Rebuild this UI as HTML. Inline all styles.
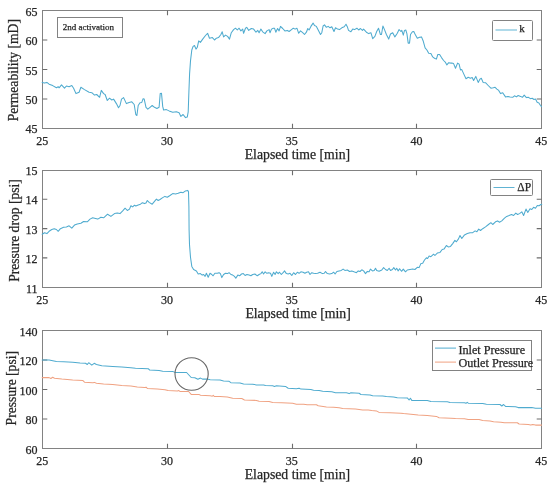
<!DOCTYPE html>
<html><head><meta charset="utf-8"><title>Figure</title>
<style>
html,body{margin:0;padding:0;background:#fff;}
svg{display:block;}
text{font-family:"Liberation Serif",serif;fill:#262626;stroke:#262626;stroke-width:0.25px;}
.t{font-size:12px;}
.l{font-size:13.6px;}
.x{font-size:13.75px;}
.c{fill:none;stroke-width:1.05;stroke-linejoin:round;stroke-linecap:round;}
</style></head><body>
<svg width="550" height="486" viewBox="0 0 550 486">
<rect width="550" height="486" fill="#ffffff"/>
<!-- plot 1 -->
<rect x="42.5" y="10.5" width="499.0" height="118.0" fill="none" stroke="#828282" stroke-width="1"/>
<path d="M167.5 128.5v-4.8M167.5 10.5v4.8M292.5 128.5v-4.8M292.5 10.5v4.8M416.5 128.5v-4.8M416.5 10.5v4.8M42.5 40h4.8M541.5 40h-4.8M42.5 69.5h4.8M541.5 69.5h-4.8M42.5 99h4.8M541.5 99h-4.8" stroke="#6c6c6c" stroke-width="1.1" fill="none"/>
<polyline class="c" stroke="#4fabcf" points="42.2,82.4 44.5,83.1 46.9,82.4 49.1,84.2 52.7,85.6 56.4,87.8 58.2,86.7 59.1,87.8 61.5,84.9 64.5,88.2 66.4,86 69.1,86.7 71.8,85.5 73.6,88.2 76,93.6 79.1,92.2 80.9,87.3 84.5,89.6 89.1,92.2 91.8,92.7 94.5,95.1 96.7,94.5 99.6,97.3 101.3,90.4 103.6,93.6 105.1,94.5 107.3,100.5 109.5,98.2 111.8,100 113.6,99.1 116.4,103.6 118.5,107.8 120,105.5 121.5,99.1 123.6,97.6 126.4,103.6 129.1,102.4 131.8,101.8 134.2,104.5 135.8,114.5 136.9,115.5 138.2,105.5 140,102.7 141.8,102.4 143.1,98.7 144.2,99.1 146,107.3 147.8,109.1 150,107.3 152.2,105.5 154.5,107.3 156.9,108.5 159.1,107.3 160.2,93.6 161.5,93.3 162.7,106.4 163.6,110 166.4,109.6 169.1,110.9 172.7,112.2 176.4,111.8 179.1,112.7 180.9,116.4 183.1,114.5 185.5,117.6 187.3,116.9 188.2,111.8 188.9,91.8 189.6,73.6 190.5,60.9 191.8,50 193.1,46.4 194.5,45.5 196,49.1 197.3,47.3 198.7,40.9 200.4,42.4 202.7,39.1 205.5,35.5 207.6,33.3 209.5,38.2 212.4,37.6 214.5,40 216.4,38.2 218.5,37.6 220.9,34.5 222.2,31.8 223.6,36.9 225.5,35.1 227.6,36.4 229.5,39.1 231.3,32.7 233.6,29.6 235.5,28.2 237.3,30 239.1,28.2 240.9,30.9 242.7,29.1 243.6,33.3 245.5,28.2 246.7,27.3 248.7,30.4 251.3,28.5 253.6,29.1 256,32.2 257.8,30.4 259.1,32.7 260.9,29.1 262.7,31.8 265.1,33.6 266.9,30.9 269.1,29.6 270,32.7 271.5,29.1 273.3,28.2 274.5,28.2 275.8,32.2 277.6,28.5 279.1,30.9 280.5,26.4 282.7,28.5 284.9,30.9 287.3,30.4 289.1,31.5 291.5,29.6 293.3,28.2 295.1,29.1 296.9,28.2 298.7,33.3 300.5,30.9 302.7,32.7 304.5,34.5 306.4,32.2 307.8,28.5 309.1,30 310.9,26.4 313.1,23.1 314.5,25.5 316.4,26.4 318.2,30 320.5,34.5 321.8,32.7 323.1,26 324.5,24.9 326.4,27.3 328.2,26.4 330,27.8 331.8,26.7 334,31.5 335.5,27.8 337.6,29.1 339.5,29.6 341.8,27.8 344.2,26.7 346,24.2 347.3,26.7 348.5,30.4 350.9,31.8 352.7,29.1 354.5,29.6 356.9,28.2 358.7,30 360.5,28.5 362.4,30.4 363.6,29.1 366.4,32.2 368.7,33.6 370.9,32.7 372.7,38.7 374.9,36.4 376.7,31.5 378.5,28.2 380.4,34.5 381.5,34.5 382.9,26 384.5,29.6 386.4,34.5 388.7,39.1 390.5,34 392.7,32.7 394.9,36.9 397.3,33.3 399.1,29.6 400.9,31.5 401.8,30.4 403.3,35.1 404.5,30.4 405.8,30 406.9,33.6 408.2,43.1 409.5,43.1 410.5,34.5 412.4,31.8 413.8,31.5 415.5,35.1 417.3,38.2 419.6,37.3 421.5,36.9 423.3,41.3 425.1,47.8 426.9,50 428.7,53.3 430.9,53.6 432.7,56.9 434.5,58.2 436.4,59.1 437.8,54.5 439.6,54.5 441.5,57.6 443.6,60.5 445.5,62.4 446.9,64.9 448.7,62.7 450.5,63.1 451.8,63.1 453.6,63.6 455.5,68.2 457.6,63.1 459.1,64.2 460.5,70 461.8,69.6 463.6,73.6 466,78.7 468.2,77.3 470.4,78.2 472.2,77.6 473.6,80.5 475.8,76.4 478.2,82.4 480,79.1 481.3,78.2 483.1,82.4 485.5,82.7 488.2,85.5 490.9,88.2 493.3,87.8 495.1,87.3 496.9,89.1 498.7,90.4 500.5,93.6 502.7,92.7 505.5,96.9 507.8,96.4 510,96.9 512.7,97.3 514.5,95.8 516.4,96.9 518.2,95.5 520.5,96.4 522.4,97.3 524.2,95.1 526.4,97.6 528.5,97.3 530.4,98.7 532.2,98.2 534,99.5 535.5,99.1 537.3,102.4 538.7,102.7 540.5,105.5 541.5,106.7"/>
<g class="t">
<text x="37.6" y="15.6" text-anchor="end">65</text>
<text x="37.6" y="45.2" text-anchor="end">60</text>
<text x="37.6" y="74.8" text-anchor="end">55</text>
<text x="37.6" y="104.3" text-anchor="end">50</text>
<text x="37.6" y="133.3" text-anchor="end">45</text>
<text x="42.20" y="145.1" text-anchor="middle">25</text>
<text x="166.95" y="145.1" text-anchor="middle">30</text>
<text x="291.70" y="145.1" text-anchor="middle">35</text>
<text x="416.45" y="145.1" text-anchor="middle">40</text>
<text x="541.20" y="145.1" text-anchor="middle">45</text>
</g>
<text class="x" x="297.4" y="158.5" text-anchor="middle">Elapsed time [min]</text>
<text class="l" transform="translate(17.8,70.2) rotate(-90)" text-anchor="middle">Permeability [mD]</text>
<rect x="57.5" y="17.5" width="65" height="20" fill="#fff" stroke="#828282" stroke-width="1"/>
<text x="62.8" y="30" style="font-size:9px" stroke="#262626" stroke-width="0.2">2nd activation</text>
<rect x="492.5" y="20.5" width="40" height="20" rx="1" fill="#fff" stroke="#828282" stroke-width="1"/>
<path d="M495.5 30H517" stroke="#4fabcf" stroke-width="1" opacity="0.9"/>
<text class="l" x="519.2" y="32.4" style="font-size:11px">k</text>
<!-- plot 2 -->
<rect x="42.5" y="170.5" width="499.0" height="117.0" fill="none" stroke="#828282" stroke-width="1"/>
<path d="M167.5 287.5v-4.8M167.5 170.5v4.8M292.5 287.5v-4.8M292.5 170.5v4.8M416.5 287.5v-4.8M416.5 170.5v4.8M42.5 199.2h4.8M541.5 199.2h-4.8M42.5 228.6h4.8M541.5 228.6h-4.8M42.5 257.9h4.8M541.5 257.9h-4.8" stroke="#6c6c6c" stroke-width="1.1" fill="none"/>
<polyline class="c" stroke="#4fabcf" points="42.2,234.2 44.5,232.7 46.9,233.6 49.1,231.3 51.8,229.5 54.2,228.7 56.4,229.5 58.2,231.3 60.4,228.7 63.6,227.3 66.4,226.9 69.1,225.8 71.8,228.2 74.5,225.1 77.3,224 80.9,223.3 83.6,221.5 87.3,221.8 90,219.1 92.7,217.8 95.5,218.5 97.8,219.1 100.9,217.3 103.6,217.8 107.6,214.2 110.9,216.4 114.5,213.6 117.3,213.1 120,213.6 122.7,210.9 125.1,208.2 127.3,210.5 129.5,209.1 130.9,205.8 132.7,206.9 134.5,205.2 135.8,206 138.2,204.9 140.5,204.2 142.4,202.7 144.5,203.6 146,203.1 147.3,200.5 149.1,202.4 152.2,204.2 154.5,201.3 156.4,199.1 158.2,200.5 160,199.5 162.7,197.6 164.9,196.4 167.3,197.3 170,195.5 172.7,193.6 175.5,194 178.2,193.3 180.9,192.2 183.1,192.7 185.5,190.9 187.8,190.4 188.5,191.8 188.9,206.4 189.1,230 189.5,244.5 190.5,257.3 191.8,266.4 193.6,269.6 196.4,270.9 198.2,274 200.4,273.6 202.2,275.1 203.6,274.5 205.1,276.4 206.4,273.3 208.2,277.3 210,273.3 211.8,274.5 213.1,275.8 214.9,273.3 217.3,273.3 219.1,272.7 220.4,273.6 221.8,277.6 223.6,274.5 225.5,273.3 227.3,273.6 229.1,272.7 230.9,274.5 232.7,275.1 234.5,276.4 235.8,278.2 237.8,275.1 239.6,275.8 241.5,274 243.3,273.6 245.1,275.5 246.9,274.5 249.1,275.1 250.9,275.8 252.7,274.5 254.9,274 257.3,275.8 259.1,274.5 260.9,273.6 262.2,271.8 263.6,274 265.1,271.8 266.9,273.3 268.7,272.7 270.5,273.3 271.8,276.4 273.6,272.2 275.1,274.5 276.4,271.8 278.2,273.6 279.5,272.2 281.3,274.5 283.1,272.7 284.5,270.9 286.4,273.6 288.2,274 290,273.3 291.8,275.5 293.6,272.7 295.5,274.5 297.3,272.2 299.1,273.3 300.9,271.8 303.1,272.2 304.9,273.3 306.7,272.2 308.5,271.8 310,274.5 311.8,272.7 313.6,273.3 315.5,273.6 317.6,273.3 320,272.2 322.4,273.6 324.2,273.3 325.5,271.5 327.3,273.6 329.6,274 331.8,273.6 333.6,272.2 335.1,274 336.9,271.5 339.1,270.9 341.3,270.4 343.1,269.1 344.9,270.4 347.3,270 349.6,271.5 351.8,270.9 354,271.8 356.4,272.7 358.2,270.9 360,271.5 361.8,269.8 363.6,270.9 365.5,273.6 367.3,271.4 369.1,271.8 370.5,269.1 372.4,270.9 374.2,270.5 375.5,268.2 376.7,270.5 379.1,271.3 381.8,270 383.6,267.6 385.5,269.5 387.3,270.5 389.1,268.2 390.5,270.5 392.4,269.5 393.8,267.6 395.5,270 396.7,268.2 398.2,270.9 399.6,268.7 401.5,271.3 403.3,269.1 405.5,271.8 407.3,270 410,269.5 412.7,269.1 414.9,269.5 417.3,267.3 419.1,267.6 420.9,263.6 422.7,263.3 424.5,260 426.4,257.8 427.6,258.5 429.1,256 430.9,256.7 433.6,254.2 434.9,255.5 437.3,253.1 440,252.4 442.2,249.5 444,249.1 446.4,245.5 448.2,246.9 450.5,246.4 452.7,243.6 454.9,240.4 456.4,241.8 458.5,238.9 460,235.5 461.8,238.5 464.5,234.9 467.3,233.6 470,232.7 472.7,232.7 475.1,230.9 476.9,231.8 478.7,229.1 480.5,230.5 482.7,228.7 485.5,226.9 488.5,224.5 490.9,222.7 492.7,224.5 495.5,221.8 497.6,220.9 499.5,222.2 501.8,220.9 504.5,218.2 506.7,216.4 509.1,215.5 511.5,214.5 513.6,215.5 515.8,213.1 517.6,214.5 519.5,213.6 521.8,211.8 523.6,215.5 526,209.1 527.8,212.4 530,208.7 531.8,209.5 533.6,207.3 535.5,208.2 537.3,205.5 539.1,205.8 540.9,204.5 541.8,204.2"/>
<g class="t">
<text x="37.6" y="174.9" text-anchor="end">15</text>
<text x="37.6" y="204.3" text-anchor="end">14</text>
<text x="37.6" y="233.8" text-anchor="end">13</text>
<text x="37.6" y="263.2" text-anchor="end">12</text>
<text x="37.6" y="292.6" text-anchor="end">11</text>
<text x="42.20" y="304.1" text-anchor="middle">25</text>
<text x="166.95" y="304.1" text-anchor="middle">30</text>
<text x="291.70" y="304.1" text-anchor="middle">35</text>
<text x="416.45" y="304.1" text-anchor="middle">40</text>
<text x="541.20" y="304.1" text-anchor="middle">45</text>
</g>
<text class="x" x="298.1" y="318" text-anchor="middle">Elapsed time [min]</text>
<text class="l" transform="translate(18.5,230.5) rotate(-90)" text-anchor="middle">Pressure drop [psi]</text>
<rect x="490.5" y="179.5" width="42" height="16" rx="1" fill="#fff" stroke="#828282" stroke-width="1"/>
<path d="M493.5 187.5H514.5" stroke="#4fabcf" stroke-width="1" opacity="0.9"/>
<text class="l" x="517.3" y="191" style="font-size:11.5px">ΔP</text>
<!-- plot 3 -->
<rect x="42.5" y="330.5" width="499.0" height="118.0" fill="none" stroke="#828282" stroke-width="1"/>
<path d="M167.5 448.5v-4.8M167.5 330.5v4.8M292.5 448.5v-4.8M292.5 330.5v4.8M416.5 448.5v-4.8M416.5 330.5v4.8M42.5 360h4.8M541.5 360h-4.8M42.5 389.5h4.8M541.5 389.5h-4.8M42.5 419h4.8M541.5 419h-4.8" stroke="#6c6c6c" stroke-width="1.1" fill="none"/>
<polyline class="c" stroke="#4fabcf" points="42.2,360 49.1,360 56.4,361.5 63.6,361.8 72.7,362.2 80,363.1 85.5,363.3 87.3,364.5 88.7,362.7 91.8,365.1 94.2,363.3 96.4,364.5 101.8,365.8 112.7,366.4 121.8,366.9 130.9,367.8 135.5,368.2 148.2,368.7 149.6,370 159.1,370.5 162.7,371.3 173.2,371.6 174.8,372.4 186.6,372.5 191.2,377.5 194.8,377.7 197.9,379.3 200.5,378.1 202.5,379.1 207.1,379.1 210.2,379.8 220,380 223.6,380.9 229.1,381.3 230.9,382.7 240,383.1 243.6,384 252.7,384.2 256.4,384.9 263.6,384.9 265.5,385.5 272.7,385.8 274.5,386.4 276.4,385.8 285.5,386.4 288.2,388.2 296.4,388.7 299.1,388.2 300.9,389.1 310.9,389.6 313.6,390.2 319.1,390.4 322.7,391.3 331.8,391.8 335.5,392.7 346.4,392.7 349.1,393.6 350.9,392.7 359.1,393.3 360.9,394.5 370,394.9 372.7,395.8 382.7,396 386.4,396.4 393.6,396.9 397.3,397.8 407.3,397.9 409.1,400 410.4,398.2 411.8,400.4 427.3,400.5 430.9,401.5 447.3,401.8 450,402.5 464.5,402.7 466,403.3 467.3,402.4 468.5,403.3 482.7,403.5 486.4,404.3 500,404.5 501.8,406 503.6,404.5 505.5,406.4 515.5,406.7 518.2,407.6 531.8,407.6 535.5,408.2 541.5,408.2"/>
<polyline class="c" stroke="#f0a282" points="42.2,377.6 49.1,377.6 50.9,378.5 52.7,377.3 54.5,378.2 61.8,379.1 72.7,380 82.7,380.4 84.5,382.2 92.7,382.7 94.5,382.4 96.4,383.3 103.6,384 112.7,384.5 121.8,385.5 130.9,386.1 137.3,386.9 144.5,387.6 146.4,387.3 147.3,388.5 157.3,389.1 165,389.8 168.1,390.6 177.3,391.1 178.9,390.6 179.9,391.4 188.6,391.5 191.2,394.4 198.9,394.4 200.5,395.2 210.2,395.7 212.3,396.2 213.3,395.4 214.3,396.5 220,396.6 227.3,396.9 232.7,398.2 241.8,398.5 244.5,400 256.4,400.4 259.1,401.3 269.1,401.5 272.7,402.4 281.8,402.7 292.7,403.3 296.4,404.2 303.6,404.2 307.3,404.7 316.4,404.7 318.2,405.8 326.4,406.9 333.6,407.3 339.1,407.8 342.7,408.5 355.5,409.1 362.7,410 368.2,410 371.8,410.5 376.4,410.9 379.1,412.4 390,412.7 400.9,413.2 403.6,413.6 410.9,414.2 418.2,415.1 427.3,415.5 436.4,416.4 439.1,417.8 450.9,418.2 455.5,418.5 464.5,418.7 468.2,419.5 479.1,419.6 482.7,420.5 490,420.9 493.6,421.8 500.9,422.2 504.5,422.7 517.3,422.7 519.1,424 528.2,424.5 530.9,425.1 532.7,424.5 535.5,425.1 541.5,425.1"/>
<g class="t">
<text x="37.6" y="335.7" text-anchor="end">140</text>
<text x="37.6" y="365.2" text-anchor="end">120</text>
<text x="37.6" y="394.7" text-anchor="end">100</text>
<text x="37.6" y="424.2" text-anchor="end">80</text>
<text x="37.6" y="453.7" text-anchor="end">60</text>
<text x="42.20" y="465.1" text-anchor="middle">25</text>
<text x="166.95" y="465.1" text-anchor="middle">30</text>
<text x="291.70" y="465.1" text-anchor="middle">35</text>
<text x="416.45" y="465.1" text-anchor="middle">40</text>
<text x="541.20" y="465.1" text-anchor="middle">45</text>
</g>
<text class="x" x="297.4" y="478.5" text-anchor="middle">Elapsed time [min]</text>
<text class="l" transform="translate(16,388.2) rotate(-90)" text-anchor="middle">Pressure [psi]</text>
<ellipse cx="191.6" cy="374" rx="16.6" ry="16.3" fill="none" stroke="#666666" stroke-width="1.1"/>
<rect x="432.5" y="340.5" width="99" height="30" fill="#fff" stroke="#828282" stroke-width="1"/>
<path d="M435 348.1H456" stroke="#4fabcf" stroke-width="1"/>
<path d="M435 362.1H456" stroke="#f0a282" stroke-width="1"/>
<text x="458.4" y="354" style="font-size:12.2px">Inlet Pressure</text>
<text x="458.4" y="367.3" style="font-size:12.2px">Outlet Pressure</text>
</svg>
</body></html>
